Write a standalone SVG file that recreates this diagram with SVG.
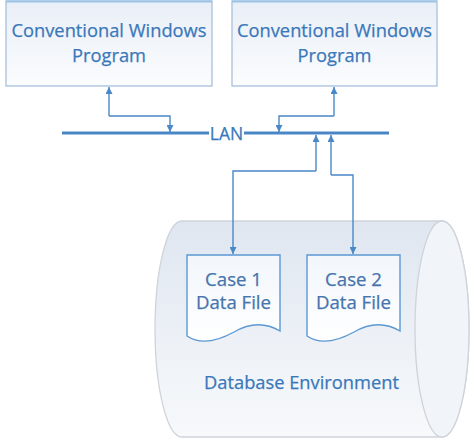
<svg xmlns="http://www.w3.org/2000/svg" width="474" height="441" viewBox="0 0 474 441">
<defs>
<linearGradient id="boxg" x1="0" y1="0" x2="0" y2="1">
<stop offset="0" stop-color="#e9eff7"/>
<stop offset="1" stop-color="#fbfcfe"/>
</linearGradient>
<linearGradient id="cylg" x1="0" y1="0" x2="0" y2="1">
<stop offset="0" stop-color="#dfe6f0"/>
<stop offset="0.6" stop-color="#eef2f7"/>
<stop offset="1" stop-color="#f7f9fb"/>
</linearGradient>
<linearGradient id="docg" x1="0" y1="0" x2="0" y2="1">
<stop offset="0" stop-color="#f2f6fb"/>
<stop offset="1" stop-color="#ffffff"/>
</linearGradient>
<marker id="ah" viewBox="0 0 10 10" refX="10" refY="5" markerWidth="7" markerHeight="7" markerUnits="userSpaceOnUse" orient="auto">
<path d="M0,0 L10,5 L0,10 Z" fill="#4a88c7"/>
</marker>
</defs>
<style>
.box{fill:url(#boxg);stroke:#a8c0dc;stroke-width:1.3}
.lbl{font-family:"Open Sans","Liberation Sans",sans-serif;font-size:18.3px;fill:#3a78ba;text-anchor:middle;stroke:#3a78ba;stroke-width:0.25}
.dlbl{font-family:"Open Sans","Liberation Sans",sans-serif;font-size:18.6px;fill:#4674ad;text-anchor:middle;stroke:#4674ad;stroke-width:0.25}
.conn{fill:none;stroke:#4a88c7;stroke-width:1.4}
.lan{stroke:#4a86c5;stroke-width:3.2;fill:none}
.doc{fill:url(#docg);stroke:#5b98d3;stroke-width:1.4}
</style>
<rect width="474" height="441" fill="#ffffff"/>
<g id="database">
<path d="M182,221 L442,221 A27,108 0 0 1 442,437 L182,437 A27,108 0 0 1 182,221 Z" fill="url(#cylg)" stroke="#cfd3da" stroke-width="1.3"/>
<ellipse cx="442" cy="329" rx="27" ry="108" fill="#f1f4f8" stroke="#cfd3da" stroke-width="1.3"/>
<text class="lbl" x="301.5" y="389">Database Environment</text>
</g>
<g id="prog1">
<rect class="box" x="6" y="1" width="206" height="85"/>
<line x1="6" y1="1.5" x2="212" y2="1.5" stroke="#9cc3e6" stroke-width="2"/>
<text class="lbl" x="109" y="37">Conventional Windows</text>
<text class="lbl" x="109" y="62">Program</text>
</g>
<g id="prog2">
<rect class="box" x="232" y="1" width="205" height="85"/>
<line x1="232" y1="1.5" x2="437" y2="1.5" stroke="#9cc3e6" stroke-width="2"/>
<text class="lbl" x="334.5" y="37">Conventional Windows</text>
<text class="lbl" x="334.5" y="62">Program</text>
</g>
<g id="case1">
<path class="doc" d="M187,255 H280 V331 Q258,318 234,332 Q205,348 187,336 Z"/>
<text class="dlbl" x="233.5" y="286">Case 1</text>
<text class="dlbl" x="233.5" y="309">Data File</text>
</g>
<g id="case2">
<path class="doc" d="M307,255 H400 V331 Q378,318 354,332 Q325,348 307,336 Z"/>
<text class="dlbl" x="353.5" y="286">Case 2</text>
<text class="dlbl" x="353.5" y="309">Data File</text>
</g>
<g id="lan">
<line class="lan" x1="62" y1="133" x2="209" y2="133"/>
<line class="lan" x1="244" y1="133" x2="389" y2="133"/>
<text class="lbl" x="226.5" y="139.5" style="font-size:17.5px">LAN</text>
</g>
<g id="connectors">
<path class="conn" d="M109,116 V87" marker-end="url(#ah)"/>
<path class="conn" d="M109,116 H170 V132" marker-end="url(#ah)"/>
<path class="conn" d="M334,116 V87" marker-end="url(#ah)"/>
<path class="conn" d="M334,116 H279 V132" marker-end="url(#ah)"/>
<path class="conn" d="M316,171 V135" marker-end="url(#ah)"/>
<path class="conn" d="M316,171 H233 V254" marker-end="url(#ah)"/>
<path class="conn" d="M331,175 V135" marker-end="url(#ah)"/>
<path class="conn" d="M331,175 H353 V254" marker-end="url(#ah)"/>
</g>
</svg>
